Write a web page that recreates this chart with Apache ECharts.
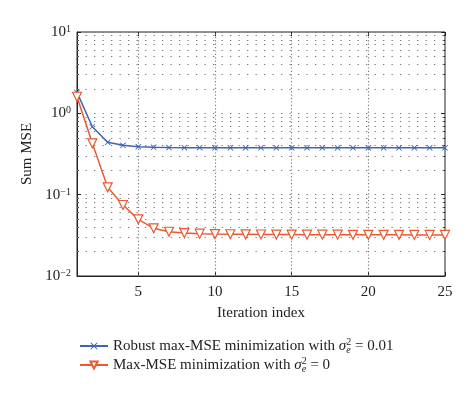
<!DOCTYPE html>
<html>
<head>
<meta charset="utf-8">
<script src="https://cdn.jsdelivr.net/npm/echarts@6/dist/echarts.min.js"></script>
<style>
html,body{margin:0;padding:0;background:#fff;}
#chart{width:474px;height:395px;}
</style>
</head>
<body>
<div id="chart"></div>
<script>
const iterations = [1,2,3,4,5,6,7,8,9,10,11,12,13,14,15,16,17,18,19,20,21,22,23,24,25];
const robustMSE = [1.81,0.684,0.44,0.404,0.388,0.382,0.379,0.378,0.378,0.377,0.377,0.377,0.377,0.377,0.377,0.377,0.377,0.377,0.377,0.377,0.377,0.377,0.377,0.377,0.377];
const maxMSE = [1.6,0.428,0.123,0.0746,0.0497,0.0386,0.035,0.0337,0.0331,0.0328,0.0326,0.0325,0.0324,0.0323,0.0323,0.0322,0.0322,0.0322,0.0321,0.0321,0.0321,0.0321,0.032,0.032,0.032];
const xTickValues = [5,10,15,20,25];
const xGridValues = [5,10,15,20];
const yMajorValues = [0.01,0.1,1,10];
const yMinorValues = [0.02,0.03,0.04,0.05,0.06,0.07,0.08,0.09,0.2,0.3,0.4,0.5,0.6,0.7,0.8,0.9,2,3,4,5,6,7,8,9];
const seriesNames = ['Robust max-MSE minimization with σe2 = 0.01','Max-MSE minimization with σe2 = 0'];
const xName = 'Iteration index';
const yName = 'Sum MSE';

const FONT = '"Liberation Serif","DejaVu Serif",serif';
const BLUE = '#4065ab';
const RED = '#ea5a32';
const GRID = '#7a7a7a';

const chart = echarts.init(document.getElementById('chart'), null, {renderer:'canvas'});

const xy = (arr) => iterations.map((x,i)=>[x,arr[i]]);
function yLabel(v){
  const e = Math.round(Math.log10(v));
  return '10{sup|' + String(e).replace('-', '−') + '}';
}
const crossPath = 'path://M0,1L1,0L5,4L9,0L10,1L6,5L10,9L9,10L5,6L1,10L0,9L4,5Z';
const hDots = {type:[1.3,7.2],width:1.2,color:GRID};
const vDots = {type:[1.2,2.2],width:1.1,color:GRID};

const option = {
  animation:false,
  backgroundColor:'#fff',
  grid:{left:77,right:29,top:32,bottom:119,show:true,borderColor:'#222',borderWidth:1,backgroundColor:'transparent'},
  xAxis:[{
    type:'value',min:1,max:25,interval:1,
    name:xName,nameLocation:'middle',nameGap:30,
    nameTextStyle:{fontFamily:FONT,fontSize:15,color:'#222'},
    axisLine:{show:true,lineStyle:{color:'#222'}},
    axisTick:{show:false},
    axisLabel:{fontFamily:FONT,fontSize:15,color:'#222',margin:9,
      formatter:(v)=> (v%5===0 ? String(v) : '')},
    splitLine:{show:false}
  },{
    type:'value',min:1,max:25,position:'bottom',
    axisLine:{show:false},axisLabel:{show:false},splitLine:{show:false},
    axisTick:{show:true,inside:true,length:4,customValues:xTickValues,lineStyle:{color:'#222'}}
  },{
    type:'value',min:1,max:25,position:'top',
    axisLine:{show:false},axisLabel:{show:false},splitLine:{show:false},
    axisTick:{show:true,inside:true,length:4,customValues:xTickValues,lineStyle:{color:'#222'}}
  }],
  yAxis:[{
    type:'log',logBase:10,min:0.01,max:10,
    name:yName,nameLocation:'middle',nameGap:37,
    nameTextStyle:{fontFamily:FONT,fontSize:15,color:'#222'},
    axisLine:{show:true,lineStyle:{color:'#222'}},
    axisTick:{show:true,inside:true,length:4,lineStyle:{color:'#222'}},
    axisLabel:{fontFamily:FONT,fontSize:15,color:'#222',margin:6,formatter:yLabel,
      rich:{sup:{fontFamily:FONT,fontSize:10,color:'#222',verticalAlign:'top',lineHeight:8}}},
    splitLine:{show:true,lineStyle:hDots}
  },{
    type:'log',logBase:10,min:0.01,max:10,position:'left',
    axisLine:{show:false},axisLabel:{show:false},splitLine:{show:false},
    axisTick:{show:true,inside:true,length:2,customValues:yMinorValues,lineStyle:{color:'#222'}}
  },{
    type:'log',logBase:10,min:0.01,max:10,position:'right',
    axisLine:{show:false},axisLabel:{show:false},splitLine:{show:false},
    axisTick:{show:true,inside:true,length:2,customValues:yMinorValues,lineStyle:{color:'#222'}}
  },{
    type:'log',logBase:10,min:0.01,max:10,position:'right',
    axisLine:{show:false},axisLabel:{show:false},splitLine:{show:false},
    axisTick:{show:true,inside:true,length:4,customValues:yMajorValues,lineStyle:{color:'#222'}}
  }],
  legend:{
    orient:'vertical',left:74,top:332,itemWidth:28,itemHeight:9,itemGap:1,
    data:seriesNames,
    formatter:(n)=> n.replace('σe2','{sig|σ}{sub|e}{sup|2}'),
    textStyle:{fontFamily:FONT,fontSize:15,color:'#222',lineHeight:18,
      rich:{
        sig:{fontFamily:FONT,fontSize:15,fontStyle:'italic',color:'#222',lineHeight:18},
        sub:{fontFamily:FONT,fontSize:10,fontStyle:'italic',color:'#222',lineHeight:9,verticalAlign:'bottom',width:0},
        sup:{fontFamily:FONT,fontSize:10,color:'#222',lineHeight:9,verticalAlign:'top'}
      }}
  },
  series:[{
    name:seriesNames[0],type:'line',data:xy(robustMSE),z:5,
    symbol:crossPath,symbolSize:6,showAllSymbol:true,
    itemStyle:{color:BLUE},lineStyle:{color:BLUE,width:1.5},
    markLine:{silent:true,symbol:'none',label:{show:false},animation:false,z:1,
      lineStyle:hDots,
      data:yMinorValues.map(v=>({yAxis:v}))}
  },{
    name:seriesNames[1],type:'line',data:xy(maxMSE),z:5,
    symbol:'triangle',symbolRotate:180,symbolSize:9,showAllSymbol:true,
    itemStyle:{color:'#fff',borderColor:RED,borderWidth:1.2},lineStyle:{color:RED,width:1.5},
    markLine:{silent:true,symbol:'none',label:{show:false},animation:false,z:1,
      lineStyle:vDots,
      data:xGridValues.map(v=>({xAxis:v}))}
  }]
};
chart.setOption(option);
</script>
</body>
</html>
